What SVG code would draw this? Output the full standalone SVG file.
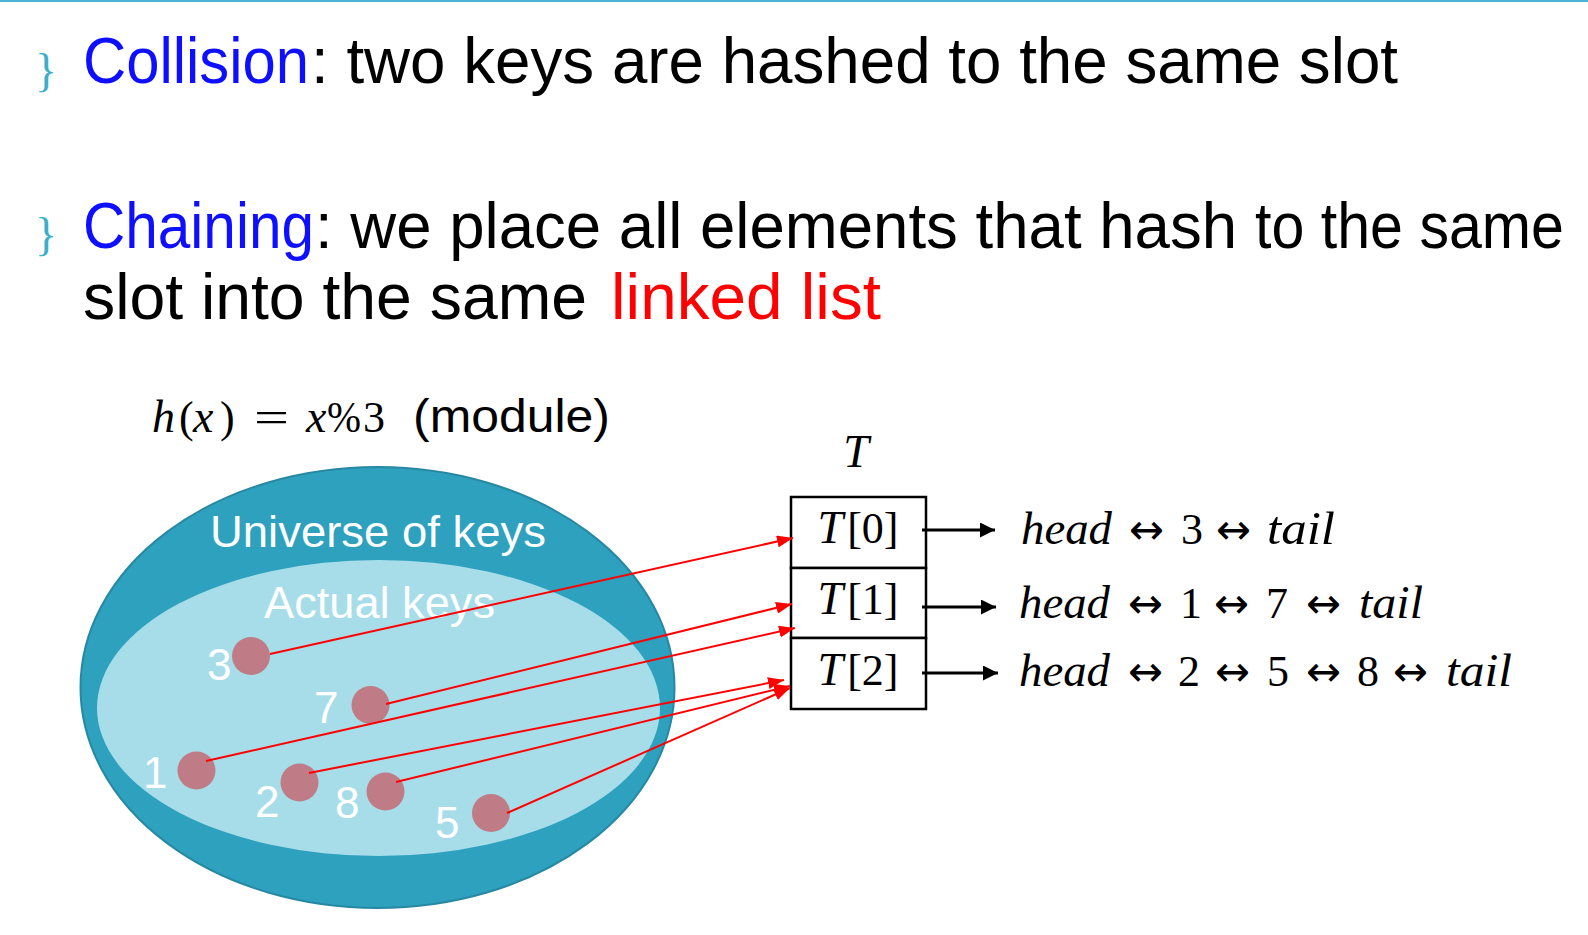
<svg xmlns="http://www.w3.org/2000/svg" width="1588" height="935" viewBox="0 0 1588 935">
  <style>
    .title { font-family: "Liberation Sans", Arial, sans-serif; font-size: 64px; fill: #000; }
    .blue { fill: #0F0FFF; }
    .red { fill: #FF0000; }
    .bullet { font-family: "Liberation Serif", serif; font-size: 46px; fill: #3AAFCB; }
    .wl { font-family: "Liberation Sans", Arial, sans-serif; font-size: 44px; fill: #FFFFFF; }
    .mi { font-family: "Liberation Serif", "Times New Roman", serif; font-style: italic; font-size: 46px; fill: #000; }
    .mr { font-family: "Liberation Serif", "Times New Roman", serif; font-size: 44px; fill: #000; }
    .arr { font-family: "DejaVu Sans", sans-serif; font-size: 42px; fill: #000; }
    .sans { font-family: "Liberation Sans", Arial, sans-serif; font-size: 46px; fill: #000; }
    .key { fill: #C07C86; }
    .redline { stroke: #FF0000; stroke-width: 2; fill: none; marker-end: url(#redArrow); }
    .blkline { stroke: #000; stroke-width: 3; fill: none; marker-end: url(#blackArrow); }
    .cell { fill: #FFFFFF; stroke: #000; stroke-width: 2.5; }
  </style>
  <defs>
    <marker id="redArrow" markerUnits="userSpaceOnUse" markerWidth="16" markerHeight="12" refX="16" refY="6" orient="auto">
      <path d="M0,0 L16,6 L0,12 z" fill="#FF0000"/>
    </marker>
    <marker id="blackArrow" markerUnits="userSpaceOnUse" markerWidth="15" markerHeight="15" refX="15" refY="7.5" orient="auto">
      <path d="M0,0 L15,7.5 L0,15 z" fill="#000"/>
    </marker>
  </defs>

  <rect x="0" y="0" width="1588" height="935" fill="#FFFFFF"/>
  <line x1="0" y1="1" x2="1588" y2="1" stroke="#4BB4D4" stroke-width="2"/>

  <g id="heading">
    <text class="bullet" x="35" y="86">}</text>
    <text class="title blue" x="83" y="83" textLength="226" lengthAdjust="spacingAndGlyphs">Collision</text>
    <text class="title" x="311" y="83" textLength="1087" lengthAdjust="spacingAndGlyphs">: two keys are hashed to the same slot</text>

    <text class="bullet" x="35" y="250">}</text>
    <text class="title blue" x="83" y="248" textLength="231" lengthAdjust="spacingAndGlyphs">Chaining</text>
    <text class="title" x="315" y="248" textLength="922" lengthAdjust="spacingAndGlyphs">: we place all elements that hash</text>
    <text class="title" x="1255" y="248" font-size="58" textLength="309" lengthAdjust="spacingAndGlyphs">to the same</text>
    <text class="title" x="83" y="319" textLength="504" lengthAdjust="spacingAndGlyphs">slot into the same</text>
    <text class="title red" x="611" y="319" textLength="270" lengthAdjust="spacingAndGlyphs">linked list</text>
  </g>

  <g id="hash-function">
    <text class="mi" x="152" y="432">h</text>
    <text class="mr" x="179" y="432">(</text>
    <text class="mi" x="193" y="432">x</text>
    <text class="mr" x="220" y="432">)</text>
    <text class="mr" x="254" y="432" textLength="35" lengthAdjust="spacingAndGlyphs">=</text>
    <text class="mi" x="306" y="432">x</text>
    <text class="mr" x="327" y="432" textLength="34" lengthAdjust="spacingAndGlyphs">%</text>
    <text class="mr" x="363" y="432">3</text>
    <text class="sans" x="413" y="432" textLength="197" lengthAdjust="spacingAndGlyphs">(module)</text>
  </g>

  <g id="universe">
    <ellipse cx="377.5" cy="687.5" rx="297" ry="220.5" fill="#2EA1BE" stroke="#2788A3" stroke-width="2"/>
    <text class="wl" x="210" y="547" textLength="336" lengthAdjust="spacingAndGlyphs">Universe of keys</text>
  </g>

  <g id="actual-keys">
    <ellipse cx="378.5" cy="708" rx="281.5" ry="148" fill="#A7DDE9"/>
    <text class="wl" x="264" y="618" textLength="231" lengthAdjust="spacingAndGlyphs">Actual keys</text>
  </g>

  <g id="key-3"><circle class="key" cx="251" cy="656" r="19"/><text class="wl" x="207" y="680">3</text></g>
  <g id="key-7"><circle class="key" cx="370.5" cy="705" r="19"/><text class="wl" x="314" y="723">7</text></g>
  <g id="key-1"><circle class="key" cx="196.5" cy="770.5" r="19"/><text class="wl" x="143" y="788">1</text></g>
  <g id="key-2"><circle class="key" cx="299.5" cy="782.5" r="19"/><text class="wl" x="255" y="817">2</text></g>
  <g id="key-8"><circle class="key" cx="385.5" cy="791.5" r="19"/><text class="wl" x="335" y="818">8</text></g>
  <g id="key-5"><circle class="key" cx="491" cy="813" r="19"/><text class="wl" x="435" y="838">5</text></g>

  <g id="table">
    <text class="mi" x="856" y="467" text-anchor="middle">T</text>
    <rect class="cell" x="791" y="497" width="135" height="71"/>
    <rect class="cell" x="791" y="568" width="135" height="70"/>
    <rect class="cell" x="791" y="638" width="135" height="71"/>
    <text x="858" y="543" text-anchor="middle" class="mr"><tspan font-style="italic" font-size="46">T</tspan><tspan dx="4">[0]</tspan></text>
    <text x="858" y="614" text-anchor="middle" class="mr"><tspan font-style="italic" font-size="46">T</tspan><tspan dx="4">[1]</tspan></text>
    <text x="858" y="685" text-anchor="middle" class="mr"><tspan font-style="italic" font-size="46">T</tspan><tspan dx="4">[2]</tspan></text>
  </g>

  <g id="chain-0">
    <text class="mi" x="1021" y="544" textLength="91" lengthAdjust="spacingAndGlyphs">head</text>
    <text class="arr" x="1129" y="544" textLength="35" lengthAdjust="spacingAndGlyphs">↔</text>
    <text class="mr" x="1181" y="544">3</text>
    <text class="arr" x="1216" y="544" textLength="35" lengthAdjust="spacingAndGlyphs">↔</text>
    <text class="mi" x="1267" y="544" textLength="68" lengthAdjust="spacingAndGlyphs">tail</text>
  </g>
  <g id="chain-1">
    <text class="mi" x="1019" y="618" textLength="91" lengthAdjust="spacingAndGlyphs">head</text>
    <text class="arr" x="1128" y="618" textLength="35" lengthAdjust="spacingAndGlyphs">↔</text>
    <text class="mr" x="1180" y="618">1</text>
    <text class="arr" x="1214" y="618" textLength="35" lengthAdjust="spacingAndGlyphs">↔</text>
    <text class="mr" x="1266" y="618">7</text>
    <text class="arr" x="1306" y="618" textLength="35" lengthAdjust="spacingAndGlyphs">↔</text>
    <text class="mi" x="1359" y="618" textLength="64" lengthAdjust="spacingAndGlyphs">tail</text>
  </g>
  <g id="chain-2">
    <text class="mi" x="1019" y="686" textLength="91" lengthAdjust="spacingAndGlyphs">head</text>
    <text class="arr" x="1128" y="686" textLength="35" lengthAdjust="spacingAndGlyphs">↔</text>
    <text class="mr" x="1178" y="686">2</text>
    <text class="arr" x="1215" y="686" textLength="35" lengthAdjust="spacingAndGlyphs">↔</text>
    <text class="mr" x="1267" y="686">5</text>
    <text class="arr" x="1306" y="686" textLength="35" lengthAdjust="spacingAndGlyphs">↔</text>
    <text class="mr" x="1357" y="686">8</text>
    <text class="arr" x="1393" y="686" textLength="35" lengthAdjust="spacingAndGlyphs">↔</text>
    <text class="mi" x="1446" y="686" textLength="66" lengthAdjust="spacingAndGlyphs">tail</text>
  </g>

  <g id="connectors">
    <line class="redline" x1="270" y1="654" x2="793" y2="538"/>
    <line class="redline" x1="386" y1="704" x2="792" y2="604"/>
    <line class="redline" x1="206" y1="761" x2="795" y2="628"/>
    <line class="redline" x1="309" y1="773" x2="784" y2="680"/>
    <line class="redline" x1="396" y1="782" x2="790" y2="686"/>
    <line class="redline" x1="507" y1="813" x2="790" y2="688"/>
    <line class="blkline" x1="922" y1="530" x2="995" y2="530"/>
    <line class="blkline" x1="922" y1="607" x2="996" y2="607"/>
    <line class="blkline" x1="922" y1="673" x2="998" y2="673"/>
  </g>
</svg>
